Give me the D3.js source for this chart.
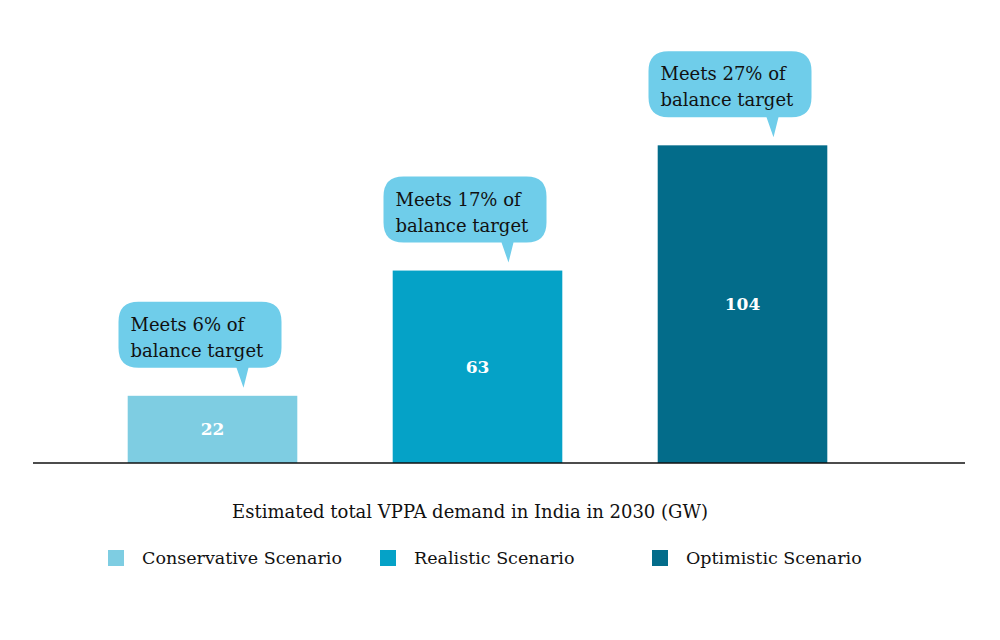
<!DOCTYPE html>
<html>
<head>
<meta charset="utf-8">
<script src="https://cdn.jsdelivr.net/npm/d3@7"></script>
<style>
  body { margin: 0; background: #fff; }
  svg text { font-family: Georgia, "DejaVu Serif", "Liberation Serif", serif; }
</style>
</head>
<body>
<svg id="chart" width="1000" height="640"></svg>
<script>
var scenarios = ['Conservative Scenario', 'Realistic Scenario', 'Optimistic Scenario'];
var demandGW = [22, 63, 104];
var shareOfTarget = ['6%', '17%', '27%'];
var colors = ['#7ecde2', '#05a2c7', '#036c8a'];
var chartTitle = 'Estimated total VPPA demand in India in 2030 (GW)';

var svg = d3.select('#chart');
var baseY = 463;

var x = d3.scaleBand()
  .domain(scenarios)
  .range([80, 875])
  .paddingInner(0.36)
  .paddingOuter(0.18);

var y = d3.scaleLinear()
  .domain([0, 110])
  .range([baseY, baseY - 336]);

var rows = scenarios.map(function(s, i) {
  return { name: s, value: demandGW[i], share: shareOfTarget[i], color: colors[i] };
});

// bars
svg.append('g').selectAll('rect')
  .data(rows)
  .join('rect')
  .attr('x', function(d) { return x(d.name); })
  .attr('y', function(d) { return y(d.value); })
  .attr('width', x.bandwidth())
  .attr('height', function(d) { return baseY - y(d.value); })
  .attr('fill', function(d) { return d.color; });

// value labels
svg.append('g').selectAll('text')
  .data(rows)
  .join('text')
  .attr('x', function(d) { return x(d.name) + x.bandwidth() / 2; })
  .attr('y', function(d) { return (y(d.value) + baseY) / 2; })
  .attr('dy', '0.35em')
  .attr('text-anchor', 'middle')
  .attr('fill', '#fff')
  .attr('font-size', 17)
  .attr('font-weight', 'bold')
  .text(function(d) { return d.value; });

// baseline
svg.append('line')
  .attr('x1', 33).attr('x2', 965)
  .attr('y1', baseY).attr('y2', baseY)
  .attr('stroke', '#111')
  .attr('stroke-width', 1.5);

// callout bubbles
var bubbleW = 163, bubbleH = 66, r = 20;
var callouts = svg.append('g').selectAll('g')
  .data(rows)
  .join('g')
  .attr('transform', function(d) {
    var cx = x(d.name) + x.bandwidth() / 2;
    return 'translate(' + (cx - 94) + ',' + (y(d.value) - 28 - bubbleH) + ')';
  });

callouts.append('path')
  .attr('fill', '#6fcdea')
  .attr('d', function() {
    var tx = 124, tip = bubbleH + 20;
    return 'M' + r + ',0' +
      'H' + (bubbleW - r) +
      'Q' + bubbleW + ',0 ' + bubbleW + ',' + r +
      'V' + (bubbleH - r) +
      'Q' + bubbleW + ',' + bubbleH + ' ' + (bubbleW - r) + ',' + bubbleH +
      'H' + (tx + 6) +
      'L' + (tx + 1) + ',' + tip +
      'L' + (tx - 6) + ',' + bubbleH +
      'H' + r +
      'Q0,' + bubbleH + ' 0,' + (bubbleH - r) +
      'V' + r +
      'Q0,0 ' + r + ',0Z';
  });

callouts.append('text')
  .attr('x', 12)
  .attr('y', 29)
  .attr('font-size', 18)
  .attr('fill', '#111')
  .text(function(d) { return 'Meets ' + d.share + ' of'; });

callouts.append('text')
  .attr('x', 12)
  .attr('y', 55)
  .attr('font-size', 18)
  .attr('fill', '#111')
  .text('balance target');

// title
svg.append('text')
  .attr('x', 470)
  .attr('y', 518)
  .attr('text-anchor', 'middle')
  .attr('font-size', 18)
  .attr('fill', '#111')
  .text(chartTitle);

// legend
var legendX = [108, 380, 652];
var legend = svg.append('g').selectAll('g')
  .data(rows)
  .join('g')
  .attr('transform', function(d, i) { return 'translate(' + legendX[i] + ',550)'; });

legend.append('rect')
  .attr('width', 16).attr('height', 16)
  .attr('fill', function(d) { return d.color; });

legend.append('text')
  .attr('x', 34)
  .attr('y', 14)
  .attr('font-size', 17.5)
  .attr('fill', '#111')
  .text(function(d) { return d.name; });
</script>
</body>
</html>
